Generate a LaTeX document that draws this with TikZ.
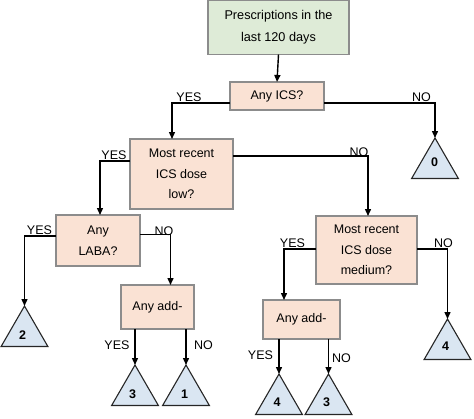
\documentclass[tikz,border=0pt]{standalone}
\usepackage{fontspec}
\setmainfont{Liberation Sans}
\usetikzlibrary{arrows.meta,shapes.geometric}
\definecolor{gfill}{HTML}{DEEBD7}
\definecolor{ofill}{HTML}{FAE2D4}
\definecolor{bfill}{HTML}{DAE6F2}
\definecolor{bord}{HTML}{8C8C8C}
\tikzset{
  base/.style={font=\fontsize{12.5}{20.5}\selectfont, align=center, inner sep=0pt, outer sep=0pt},
  gbox/.style={base, draw=bord, line width=1.1pt, fill=gfill},
  obox/.style={base, draw=bord, line width=1.1pt, fill=ofill},
  tri/.style={regular polygon, regular polygon sides=3, minimum size=54pt, draw=black!85, line width=1.1pt, fill=bfill, inner sep=0pt, outer sep=0pt},
  lbl/.style={font=\fontsize{12.5}{14}\selectfont, inner sep=0pt},
  num/.style={font=\fontsize{12.5}{14}\selectfont\bfseries, inner sep=0pt},
  arr/.style={line width=1.4pt, -{Triangle[length=7pt,width=6pt]}},
}
\begin{document}
\begin{tikzpicture}[x=1pt,y=-1pt]
\useasboundingbox (0,0) rectangle (474,418);
% boxes
\node[gbox, minimum width=141pt, minimum height=54pt, font=\fontsize{12.7}{22}\selectfont] (top) at (278.5,27.5) {Prescriptions in the\\last 120 days};
\node[obox, minimum width=94pt, minimum height=28pt] (ics) at (277,96) {Any ICS?};
\node[obox, minimum width=103pt, minimum height=70pt] (low) at (181.5,174) {Most recent\\ICS dose\\low?};
\node[obox, minimum width=84pt, minimum height=51pt] (laba) at (98,240.5) {Any\\LABA?};
\node[obox, minimum width=73pt, minimum height=44pt] (addL) at (157.5,307) {Any add-};
\node[obox, minimum width=101pt, minimum height=68pt] (med) at (366.5,250) {Most recent\\ICS dose\\medium?};
\node[obox, minimum width=77pt, minimum height=39pt] (addR) at (301.5,319.5) {Any add-};
% triangles
\node[tri] (t0) at (435,165) {};
\node[tri] (t2) at (24.5,333) {};
\node[tri] (t3L) at (135,392) {};
\node[tri] (t1) at (186,392) {};
\node[tri] (t4R) at (447.5,346) {};
\node[tri] (t4) at (279,401) {};
\node[tri] (t3R) at (328.5,401) {};
\node[num] (n0) at (434.5,162) {0};
\node[num] (n2) at (22.5,335.5) {2};
\node[num] (n3L) at (132.5,394) {3};
\node[num] (n1) at (184.5,394) {1};
\node[num] (n4R) at (445.5,346) {4};
\node[num] (n4) at (277,402) {4};
\node[num] (n3R) at (326.5,402) {3};
% connectors
\draw[arr] (top.south) -- (ics.north);
\draw[arr] ([yshift=-7pt]ics.west) -| ([xshift=-9.5pt]low.north);
\draw[arr] ([yshift=-7pt]ics.east) -| (t0.north);
\draw[arr] ([yshift=13pt]low.west) -| ([xshift=2pt]laba.north);
\draw[arr] ([yshift=18pt]low.east) -| ([xshift=1.5pt]med.north);
\draw[arr] ([yshift=4.5pt]laba.west) -| (t2.north);
\draw[arr] ([yshift=6pt]laba.east) -| ([xshift=13pt]addL.north);
\draw[arr] ([yshift=1pt]med.west) -| ([xshift=-17.5pt]addR.north);
\draw[arr] ([yshift=1pt]med.east) -| (t4R.north);
\draw[arr] (t3L.north |- addL.south) -- (t3L.north);
\draw[arr] (t1.north |- addL.south) -- (t1.north);
\draw[arr] (t4.north |- addR.south) -- (t4.north);
\draw[arr] (t3R.north |- addR.south) -- (t3R.north);
% labels
\node[lbl] (y1) at (189,97) {YES};
\node[lbl] (o1) at (421.5,97) {NO};
\node[lbl] (y2) at (114,155) {YES};
\node[lbl] (o2) at (359,152) {NO};
\node[lbl] (y3) at (39.5,230) {YES};
\node[lbl] (o3) at (164,231) {NO};
\node[lbl] (y4) at (117,345.5) {YES};
\node[lbl] (o4) at (203.5,345) {NO};
\node[lbl] (y5) at (292.5,243) {YES};
\node[lbl] (o5) at (443.5,243) {NO};
\node[lbl] (y6) at (260.5,355) {YES};
\node[lbl] (o6) at (341.5,358) {NO};
\end{tikzpicture}
\end{document}
